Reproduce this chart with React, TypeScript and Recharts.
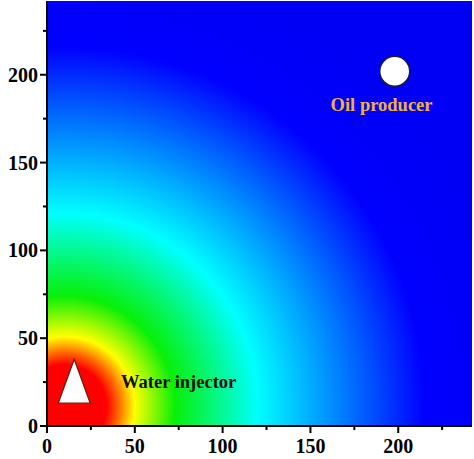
import React from "react";
import {
  ScatterChart,
  Scatter,
  XAxis,
  YAxis,
  ReferenceArea,
} from "recharts";

// axes
const axisMax = 242;
const axisTicks = [0, 25, 50, 75, 100, 125, 150, 175, 200, 225];

// radial field around the injector (distance in grid units -> colour)
const fieldCenter = { x: 10, y: 11 };
const fieldRadius = [0, 24, 31, 40, 63, 110, 205, 260];
const fieldColor = [
  "#ff0000",
  "#ff0000",
  "#ff6a00",
  "#ffff00",
  "#08f008",
  "#00ffff",
  "#0000ff",
  "#0000f4",
];

// wells
const injector = [{ x: 15.5, y: 25.5 }];
const producer = [{ x: 198, y: 202 }];
const injectorLabel = [{ x: 75, y: 25, text: "Water injector" }];
const producerLabel = [{ x: 190.5, y: 182.5, text: "Oil producer" }];

const serif = "'Liberation Serif', 'Times New Roman', serif";

const FieldShape = (props: any) => {
  const { x, y, width, height } = props;
  const rMax = fieldRadius[fieldRadius.length - 1];
  return (
    <g>
      <defs>
        <radialGradient
          id="field"
          gradientUnits="objectBoundingBox"
          cx={fieldCenter.x / axisMax}
          cy={1 - fieldCenter.y / axisMax}
          fx={fieldCenter.x / axisMax}
          fy={1 - fieldCenter.y / axisMax}
          r={rMax / axisMax}
        >
          {fieldRadius.map((r, i) => (
            <stop key={i} offset={r / rMax} stopColor={fieldColor[i]} />
          ))}
        </radialGradient>
      </defs>
      <rect x={x} y={y} width={width} height={height} fill="url(#field)" />
    </g>
  );
};

const XTick = (props: any) => {
  const { x, y, payload } = props;
  const major = payload.value % 50 === 0;
  return (
    <g>
      <line x1={x} x2={x} y1={y} y2={y + (major ? 7 : 4)} stroke="#000" strokeWidth={2} />
      {major && (
        <text
          x={x}
          y={y + 27}
          textAnchor="middle"
          fontFamily={serif}
          fontWeight="bold"
          fontSize={20}
          fill="#000"
        >
          {payload.value}
        </text>
      )}
    </g>
  );
};

const YTick = (props: any) => {
  const { x, y, payload } = props;
  const major = payload.value % 50 === 0;
  return (
    <g>
      <line x1={x - (major ? 7 : 4)} x2={x} y1={y} y2={y} stroke="#000" strokeWidth={2} />
      {major && (
        <text
          x={x - 9}
          y={y + 7}
          textAnchor="end"
          fontFamily={serif}
          fontWeight="bold"
          fontSize={20}
          fill="#000"
        >
          {payload.value}
        </text>
      )}
    </g>
  );
};

const Triangle = (props: any) => {
  const { cx, cy } = props;
  return (
    <polygon
      points={`${cx},${cy - 22} ${cx - 16},${cy + 22} ${cx + 16},${cy + 22}`}
      fill="#fff"
      stroke="#6b1a10"
      strokeWidth={1.2}
    />
  );
};

const Circle = (props: any) => {
  const { cx, cy } = props;
  return <circle cx={cx} cy={cy} r={15} fill="#fff" stroke="#1a1a40" strokeWidth={1.5} />;
};

const makeLabel = (color: string) => (props: any) => {
  const { cx, cy, payload } = props;
  return (
    <text
      x={cx}
      y={cy + 6}
      textAnchor="middle"
      fontFamily={serif}
      fontWeight="bold"
      fontSize={18.5}
      fill={color}
    >
      {payload.text}
    </text>
  );
};

export default function App() {
  return (
    <div style={{ position: "absolute", left: 0, top: 0 }}>
      <ScatterChart
        width={474}
        height={459}
        margin={{ top: 1, right: 2, left: 0, bottom: 0 }}
      >
        <XAxis
          type="number"
          dataKey="x"
          domain={[0, axisMax]}
          ticks={axisTicks}
          allowDataOverflow
          height={33}
          tickSize={0}
          tickMargin={0}
          tickLine={false}
          axisLine={{ stroke: "#000", strokeWidth: 2 }}
          tick={(p: any) => <XTick {...p} />}
          interval={0}
        />
        <YAxis
          type="number"
          dataKey="y"
          domain={[0, axisMax]}
          ticks={axisTicks}
          allowDataOverflow
          width={47}
          tickSize={0}
          tickMargin={0}
          tickLine={false}
          axisLine={{ stroke: "#000", strokeWidth: 2 }}
          tick={(p: any) => <YTick {...p} />}
          interval={0}
        />
        <ReferenceArea
          x1={0}
          x2={axisMax}
          y1={0}
          y2={axisMax}
          ifOverflow="visible"
          shape={(p: any) => <FieldShape {...p} />}
        />
        <Scatter data={injector} shape={Triangle} isAnimationActive={false} />
        <Scatter data={producer} shape={Circle} isAnimationActive={false} />
        <Scatter data={injectorLabel} shape={makeLabel("#111")} isAnimationActive={false} />
        <Scatter data={producerLabel} shape={makeLabel("#f0b040")} isAnimationActive={false} />
      </ScatterChart>
    </div>
  );
}
